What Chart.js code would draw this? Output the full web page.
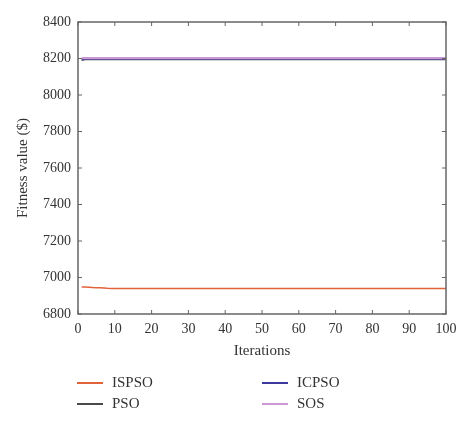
<!DOCTYPE html>
<html>
<head>
<meta charset="utf-8">
<script src="https://cdn.jsdelivr.net/npm/chart.js@4.4.0/dist/chart.umd.min.js"></script>
<style>
  html, body { margin:0; padding:0; background:#fff; }
  #wrap { position:relative; width:474px; height:426px; }
  #legend { position:absolute; left:0; top:372px; width:474px; font-family:"Liberation Serif", "DejaVu Serif", serif; font-size:15px; color:#333; }
  .item { position:absolute; height:20px; line-height:20px; white-space:nowrap; }
  .item i { position:absolute; left:0; top:10px; width:26px; height:2px; }
  .item span { position:absolute; left:35px; top:0; }
</style>
</head>
<body>
<div id="wrap">
  <canvas id="chart" width="474" height="426"></canvas>
  <div id="legend"></div>
</div>
<script>
// 데이터
const iterations = [1, 2, 3, 4, 5, 6, 7, 8, 9, 10, 20, 30, 40, 50, 60, 70, 80, 90, 100];
const ispso = [6948, 6948, 6947, 6945, 6944, 6944, 6943, 6941, 6940, 6940, 6940, 6940, 6940, 6940, 6940, 6940, 6940, 6940, 6940];
const pso   = [8191, 8195, 8195, 8195, 8195, 8195, 8195, 8195, 8195, 8195, 8195, 8195, 8195, 8195, 8195, 8195, 8195, 8195, 8195];
const icpso = [8194, 8197, 8197, 8197, 8197, 8197, 8197, 8197, 8197, 8197, 8197, 8197, 8197, 8197, 8197, 8197, 8197, 8197, 8197];
const sos   = [8202, 8202, 8202, 8202, 8202, 8202, 8202, 8202, 8202, 8202, 8202, 8202, 8202, 8202, 8202, 8202, 8202, 8202, 8202];
const seriesNames = ['ISPSO', 'PSO', 'ICPSO', 'SOS'];
const xTicks = [0, 10, 20, 30, 40, 50, 60, 70, 80, 90, 100];
const yTicks = [6800, 7000, 7200, 7400, 7600, 7800, 8000, 8200, 8400];

const colors = ['#e2623a', '#4a4a4a', '#3c3a9e', '#cc98d4'];
const widths = [1.5, 1.5, 1.5, 2.2];
const drawOrder = [3, 2, 1, 0]; // SOS 가 맨 위
const serif = '"Liberation Serif", "DejaVu Serif", serif';

function toPoints(vals) {
  return vals.map((v, i) => ({ x: iterations[i], y: v }));
}

const datasets = [ispso, pso, icpso, sos].map((vals, i) => ({
  label: seriesNames[i],
  data: toPoints(vals),
  borderColor: colors[i],
  borderWidth: widths[i],
  order: drawOrder[i],
  pointRadius: 0,
  tension: 0,
  fill: false
}));

// MATLAB 스타일 박스 + 안쪽 눈금
const boxPlugin = {
  id: 'box',
  afterDraw(chart) {
    const { ctx, chartArea: a, scales } = chart;
    ctx.save();
    ctx.strokeStyle = '#666';
    ctx.lineWidth = 1.5;
    ctx.strokeRect(a.left, a.top, a.right - a.left, a.bottom - a.top);
    ctx.lineWidth = 1;
    ctx.beginPath();
    const len = 4;
    scales.x.ticks.forEach((t, i) => {
      const px = scales.x.getPixelForTick(i);
      ctx.moveTo(px, a.bottom); ctx.lineTo(px, a.bottom - len);
      ctx.moveTo(px, a.top); ctx.lineTo(px, a.top + len);
    });
    scales.y.ticks.forEach((t, i) => {
      const py = scales.y.getPixelForTick(i);
      ctx.moveTo(a.left, py); ctx.lineTo(a.left + len, py);
      ctx.moveTo(a.right, py); ctx.lineTo(a.right - len, py);
    });
    ctx.stroke();
    ctx.restore();
  }
};

new Chart(document.getElementById('chart').getContext('2d'), {
  type: 'line',
  data: { datasets },
  options: {
    responsive: false,
    animation: false,
    layout: { padding: { left: 14, right: 28, top: 22, bottom: 66 } },
    plugins: { legend: { display: false }, tooltip: { enabled: false } },
    scales: {
      x: {
        type: 'linear', min: 0, max: 100,
        afterBuildTicks: s => { s.ticks = xTicks.map(v => ({ value: v })); },
        afterFit: s => { s.height = 46; },
        grid: { display: false, drawTicks: false },
        border: { display: false },
        ticks: { padding: 7, color: '#333', font: { family: serif, size: 14 }, callback: v => String(v) },
        title: { display: true, text: 'Iterations', color: '#333', padding: { top: 0, bottom: 0 }, font: { family: serif, size: 15 } }
      },
      y: {
        min: 6800, max: 8400,
        afterBuildTicks: s => { s.ticks = yTicks.map(v => ({ value: v })); },
        afterFit: s => { s.width = 64; },
        grid: { display: false, drawTicks: false },
        border: { display: false },
        ticks: { padding: 7, color: '#333', font: { family: serif, size: 14 }, callback: v => String(v) },
        title: { display: true, text: 'Fitness value ($)', color: '#333', padding: { top: 0, bottom: 0 }, font: { family: serif, size: 15 } }
      }
    }
  },
  plugins: [boxPlugin]
});

// 범례 (2열: ISPSO/PSO, ICPSO/SOS)
const legendPos = [[77, 0], [77, 21], [262, 0], [262, 21]];
const legend = document.getElementById('legend');
seriesNames.forEach((name, i) => {
  const d = document.createElement('div');
  d.className = 'item';
  d.style.left = legendPos[i][0] + 'px';
  d.style.top = legendPos[i][1] + 'px';
  d.innerHTML = `<i style="background:${colors[i]}"></i><span>${name}</span>`;
  legend.appendChild(d);
});
</script>
</body>
</html>
